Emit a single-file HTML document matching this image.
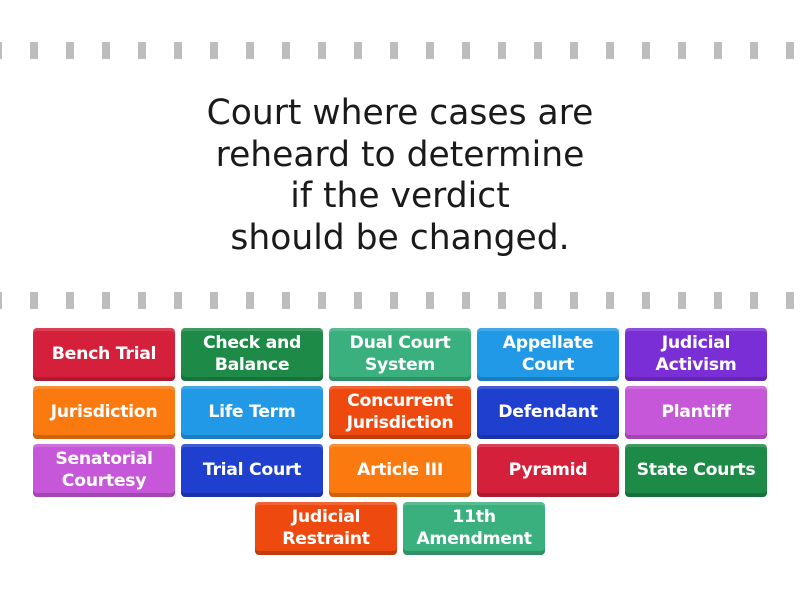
<!DOCTYPE html>
<html><head><style>
body{margin:0;width:800px;height:600px;background:#fff;position:relative;overflow:hidden;font-family:"DejaVu Sans","Liberation Sans",sans-serif;}
.dash{position:absolute;width:8px;height:17px;background:#bdbdbd;}
.q{position:absolute;left:0;width:800px;top:93px;text-align:center;font-size:34.5px;line-height:41.5px;color:#1a1a1a;}
.t{position:absolute;width:142px;height:53px;border-radius:4px;color:#fff;font-weight:bold;font-size:17.3px;line-height:22px;display:flex;align-items:center;justify-content:center;text-align:center;box-sizing:border-box;padding-bottom:2px;box-shadow:inset 0 -4px 0 rgba(0,0,0,0.18),inset 0 3px 0 rgba(255,255,255,0.15);letter-spacing:-0.3px;}
</style></head><body>
<div id="d"></div>
<div class="q">Court where cases are<br>reheard to determine<br>if the verdict<br>should be changed.</div>
<div class="t" style="left:33px;top:328px;background:#d4203a">Bench Trial</div>
<div class="t" style="left:181px;top:328px;background:#1e8a47">Check and<br>Balance</div>
<div class="t" style="left:329px;top:328px;background:#3bb07f">Dual Court<br>System</div>
<div class="t" style="left:477px;top:328px;background:#2299e6">Appellate<br>Court</div>
<div class="t" style="left:625px;top:328px;background:#7a2fd6">Judicial<br>Activism</div>
<div class="t" style="left:33px;top:386px;background:#fb7a10">Jurisdiction</div>
<div class="t" style="left:181px;top:386px;background:#2299e6">Life Term</div>
<div class="t" style="left:329px;top:386px;background:#ee4a10">Concurrent<br>Jurisdiction</div>
<div class="t" style="left:477px;top:386px;background:#1f3fcf">Defendant</div>
<div class="t" style="left:625px;top:386px;background:#c657d8">Plantiff</div>
<div class="t" style="left:33px;top:444px;background:#c657d8">Senatorial<br>Courtesy</div>
<div class="t" style="left:181px;top:444px;background:#1f3fcf">Trial Court</div>
<div class="t" style="left:329px;top:444px;background:#fb7a10">Article III</div>
<div class="t" style="left:477px;top:444px;background:#d4203a">Pyramid</div>
<div class="t" style="left:625px;top:444px;background:#1e8a47">State Courts</div>
<div class="t" style="left:255px;top:502px;background:#ee4a10">Judicial<br>Restraint</div>
<div class="t" style="left:403px;top:502px;background:#3bb07f">11th<br>Amendment</div>
<script>
var d=document.getElementById('d'),h='';
for(var x=-6;x<800;x+=36){h+='<div class="dash" style="left:'+x+'px;top:42px"></div><div class="dash" style="left:'+x+'px;top:292px"></div>';}
d.innerHTML=h;
</script>
</body></html>
